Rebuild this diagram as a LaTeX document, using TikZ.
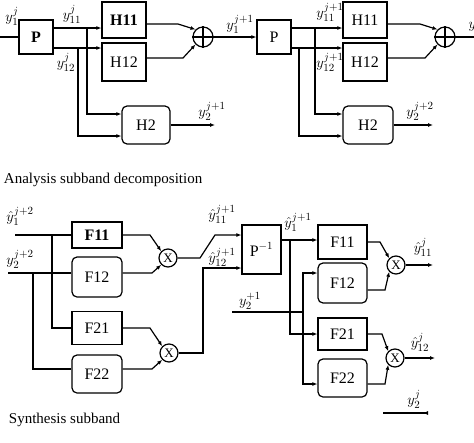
\documentclass[tikz,border=0pt]{standalone}
\usepackage{fontspec}
\setmainfont{Liberation Serif}
\usetikzlibrary{arrows.meta}
\begin{document}
\begin{tikzpicture}[x=1pt,y=-1pt,line width=1.2pt,
  >={Latex[length=5pt,width=4pt]},
  blk/.style={draw,minimum width=44pt,minimum height=36pt,inner sep=0pt,
    font=\fontsize{16}{16}\selectfont},
  rblk/.style={blk,rounded corners=5pt},
  pblk/.style={blk,minimum width=34pt,minimum height=34pt},
  adder/.style={draw,circle,minimum size=20pt,inner sep=0pt},
  mult/.style={draw,circle,minimum size=18pt,inner sep=0pt,
    font=\fontsize{13}{13}\selectfont},
  lbl/.style={font=\fontsize{15}{15}\selectfont,inner sep=1pt},
  caption/.style={anchor=west,font=\fontsize{15}{15}\selectfont}]
  \useasboundingbox (0,0) rectangle (474,442);
  % analysis
  \node[pblk] (P1) at (36,37) {\textbf{P}};
  \node[blk] (H11a) at (124,20) {\textbf{H11}};
  \node[blk,minimum height=38pt] (H12a) at (124,62) {H12};
  \node[rblk,minimum width=48pt,minimum height=38pt] (H2a) at (146,125) {H2};
  \node[adder] (Sa) at (203,37) {};
  \node[pblk] (P2) at (274,37) {P};
  \node[blk] (H11b) at (365,20) {H11};
  \node[blk,minimum height=38pt] (H12b) at (365,62) {H12};
  \node[rblk,minimum width=50pt,minimum height=38pt] (H2b) at (368,125) {H2};
  \node[adder] (Sb) at (445,37) {};
  \draw (Sa.north) -- (Sa.south) (Sa.west) -- (Sa.east);
  \draw (Sb.north) -- (Sb.south) (Sb.west) -- (Sb.east);
  \coordinate (in1) at (0,37);
  \coordinate (out1) at (474,37);
  \coordinate (b1) at (87,28);
  \coordinate (b2) at (78,48);
  \coordinate (b3) at (315,28);
  \coordinate (b4) at (299,48);
  \draw (in1) -- (P1);
  \draw[->] (P1.east |- b1) -- (H11a.west |- b1);
  \draw[->] (P1.east |- b2) -- (H12a.west |- b2);
  \draw[->] (b1) |- (H2a.west |- 0,114);
  \draw[->] (b2) |- (H2a.west |- 0,136);
  \draw[->] (H11a.east |- 0,24) -- (178,24) -- (Sa.north west);
  \draw[->] (H12a.east |- 0,58) -- (183,58) -- (Sa.south west);
  \draw[->] (H2a.east) -- (215,125);
  \draw[->] (Sa) -- (P2);
  \draw[->] (P2.east |- b3) -- (H11b.west |- b3);
  \draw[->] (P2.east |- b4) -- (H12b.west |- b4);
  \draw[->] (b3) |- (H2b.west |- 0,114);
  \draw[->] (b4) |- (H2b.west |- 0,136);
  \draw[->] (H11b.east |- 0,24) -- (420,24) -- (Sb.north west);
  \draw[->] (H12b.east |- 0,58) -- (425,58) -- (Sb.south west);
  \draw[->] (H2b.east) -- (433,125);
  \draw (Sb) -- (out1);
  \node[lbl] (ly1) at (12,16) {$y^j_1$};
  \node[lbl] (ly11) at (72,14) {$y^j_{11}$};
  \node[lbl] (ly12) at (66,62) {$y^j_{12}$};
  \node[lbl] (ly2) at (212,111) {$y^{j+1}_2$};
  \node[lbl] (ly1b) at (240,24) {$y^{j+1}_1$};
  \node[lbl] (ly11b) at (330,12) {$y^{j+1}_{11}$};
  \node[lbl] (ly12b) at (330,62) {$y^{j+1}_{12}$};
  \node[lbl] (ly2b) at (420,111) {$y^{j+2}_2$};
  \node[lbl,anchor=west] (lyo) at (467,27) {$y$};
  \node[caption] (tA) at (0,180) {Analysis subband decomposition};
  % synthesis
  \node[blk,minimum width=50pt,minimum height=26pt] (F11a) at (97,235) {\textbf{F11}};
  \node[rblk,minimum width=50pt,minimum height=40pt] (F12a) at (97,277) {F12};
  \node[blk,minimum width=50pt,minimum height=33pt] (F21a) at (97,328) {F21};
  \node[rblk,minimum width=50pt,minimum height=38pt] (F22a) at (97,374) {F22};
  \node[mult] (M1) at (168,258) {X};
  \node[mult] (M2) at (169,353) {X};
  \node[blk,minimum width=39pt,minimum height=49pt] (P3) at (261.5,249.5) {P$^{-1}$};
  \node[blk,minimum width=49pt,minimum height=34pt] (F11b) at (342.5,242) {F11};
  \node[rblk,minimum width=49pt,minimum height=40pt] (F12b) at (342.5,283) {F12};
  \node[blk,minimum width=49pt,minimum height=32pt] (F21b) at (342.5,334) {F21};
  \node[rblk,minimum width=49pt,minimum height=38pt] (F22b) at (342.5,378) {F22};
  \node[mult] (M3) at (396,265) {X};
  \node[mult] (M4) at (395,358) {X};
  \coordinate (i1) at (15,235);
  \coordinate (i2) at (8,273);
  \coordinate (c1) at (52,235);
  \coordinate (c2) at (33,273);
  \coordinate (c3) at (290,240);
  \coordinate (i3) at (232,312);
  \coordinate (c4) at (303,312);
  \coordinate (o5) at (383,413);
  \coordinate (o6) at (428,413);
  \draw (i1) -- (F11a.west |- i1);
  \draw (i2) -- (F12a.west |- i2);
  \draw (c1) |- (F21a.west);
  \draw (c2) |- (F22a.west |- 0,369);
  \draw[->] (F11a.east) -- (150,235) -- (M1.north west);
  \draw[->] (F12a.east |- 0,273) -- (152,273) -- (M1.south west);
  \draw[->] (F21a.east) -- (150,328) -- (M2.north west);
  \draw[->] (F22a.east |- 0,369) -- (152,369) -- (M2.south west);
  \draw[->] (M1.east) -- (200,258) -- (215,235) -- (P3.west |- 0,235);
  \draw[->] (M2.east) -- (203,353) -- (203,268) -- (P3.west |- 0,268);
  \draw[->] (P3.east |- c3) -- (F11b.west |- c3);
  \draw[->] (c3) |- (F21b.west);
  \draw (i3) -- (c4);
  \draw[->] (c4) |- (F12b.west |- 0,273);
  \draw[->] (c4) |- (F22b.west |- 0,384);
  \draw[->] (F11b.east) -- (380,242) -- (M3.north west);
  \draw[->] (F12b.east |- 0,290) -- (385,290) -- (M3.south west);
  \draw[->] (F21b.east) -- (382,334) -- (M4.north west);
  \draw[->] (F22b.east |- 0,384) -- (385,384) -- (M4.south west);
  \draw[->] (M3.east) -- (433,265);
  \draw[->] (M4.east) -- (435,358);
  \draw[-{Latex[length=5pt,width=4pt,reversed]}] (o5) -- (o6);
  \node[lbl] (lf1) at (20,216) {$\hat{y}^{j+2}_1$};
  \node[lbl] (lf2) at (20,259) {$y^{j+2}_2$};
  \node[lbl] (lf11) at (222,214) {$\hat{y}^{j+1}_{11}$};
  \node[lbl] (lf12) at (222,257) {$\hat{y}^{j+1}_{12}$};
  \node[lbl] (lf1b) at (298,222) {$\hat{y}^{j+1}_1$};
  \node[lbl] (lf2b) at (250,301) {$y^{+1}_2$};
  \node[lbl] (lo11) at (423,247) {$\hat{y}^j_{11}$};
  \node[lbl] (lo12) at (420,342) {$\hat{y}^j_{12}$};
  \node[lbl] (lo2) at (414,399) {$y^j_2$};
  \node[caption] (tS) at (5,420) {Synthesis subband};
\end{tikzpicture}
\end{document}
